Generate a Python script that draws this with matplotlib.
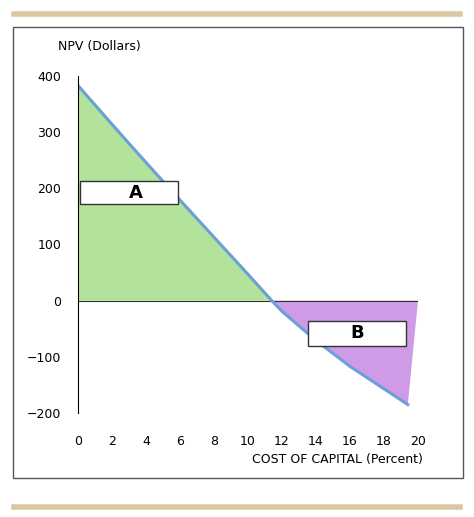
import matplotlib
matplotlib.use("Agg")
import matplotlib.pyplot as plt
from matplotlib.patches import Rectangle
from matplotlib.lines import Line2D

rates = [0, 2, 4, 6, 8, 10, 11.4, 12, 14, 16, 18, 19.4]
npv = [383, 314, 246, 179, 113, 47, 0, -19, -71, -117, -157, -185]
xticks = [0, 2, 4, 6, 8, 10, 12, 14, 16, 18, 20]
yticks = [-200, -100, 0, 100, 200, 300, 400]

fig = plt.figure(figsize=(4.74, 5.17), dpi=100)
fig.add_artist(Line2D([0.03, 0.97], [1-14/517]*2, color="#d8c9a0", lw=4))
fig.add_artist(Line2D([0.03, 0.97], [1-507/517]*2, color="#d8c9a0", lw=4))
fig.add_artist(Rectangle((13/474, 1-478/517), 450/474, 451/517, fill=False, ec="#555555", lw=1))

ax = fig.add_axes([78/474, 1-413/517, 340/474, 337/517])
ax.set_xlim(0, 20); ax.set_ylim(-200, 400)
gx = [r for r in rates if r <= 11.4]; gy = npv[:len(gx)]
ax.fill(gx + [0], gy + [0], color="#b3e29b", lw=0)
px = rates[6:]; py = npv[6:]
ax.fill(px + [20], py + [0], color="#cf9be6", lw=0)
ax.plot([0, 20], [0, 0], color="#333333", lw=0.8)
ax.plot(rates, npv, color="#6a9fd8", lw=2.2)
ax.add_patch(Rectangle((0.1, 172), 5.8, 41, fc="white", ec="#333333", lw=1, zorder=5))
ax.text(3.4, 192, "A", ha="center", va="center", fontsize=13, fontweight="bold", zorder=6)
ax.add_patch(Rectangle((13.5, -80), 5.8, 43, fc="white", ec="#333333", lw=1, zorder=5))
ax.text(16.4, -58, "B", ha="center", va="center", fontsize=13, fontweight="bold", zorder=6)
for s in ["top", "right"]: ax.spines[s].set_visible(False)
ax.spines["bottom"].set_visible(False)
ax.set_xticks(xticks); ax.set_yticks(yticks)
ax.tick_params(axis="x", length=0, labelsize=9, pad=16)
ax.tick_params(axis="y", length=0, labelsize=9, pad=12)
ax.text(-0.059, 1.089, "NPV (Dollars)", transform=ax.transAxes, fontsize=9, ha="left", va="center")
ax.text(1.015, -0.139, "COST OF CAPITAL (Percent)", transform=ax.transAxes, fontsize=9, ha="right", va="center")
fig.savefig("out.png", dpi=100)
